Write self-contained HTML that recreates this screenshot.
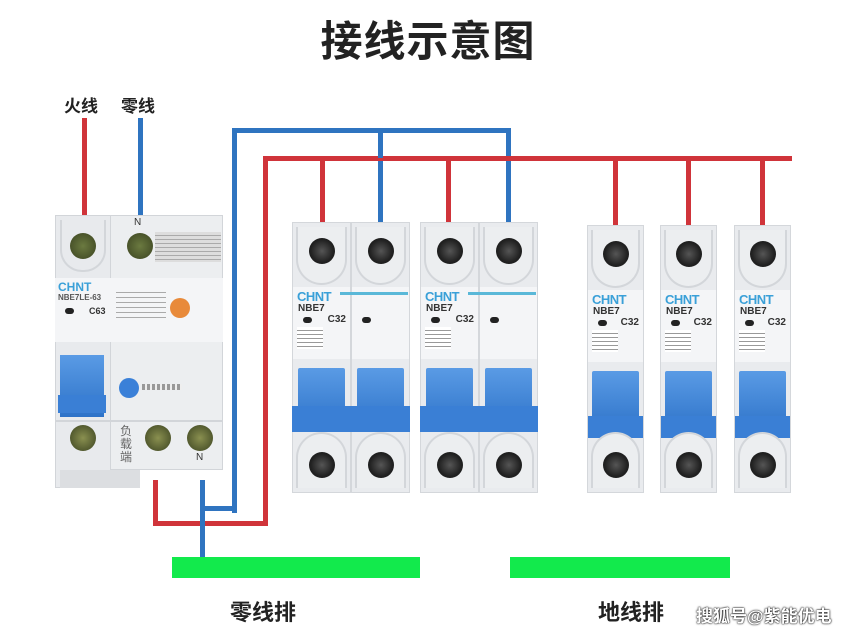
<!DOCTYPE html>
<html><head><meta charset="utf-8">
<style>
*{margin:0;padding:0;box-sizing:border-box}
body{width:856px;height:638px;background:#fff;position:relative;overflow:hidden;font-family:"Liberation Sans","Noto Sans CJK SC",sans-serif}
.a{position:absolute}
.w{position:absolute}
.r{background:#d0343a}
.b{background:#2f74c0}
.pole{position:absolute;top:222px;height:271px;background:#e9ebee;border:1px solid #d4d7db}
.pole .arch{position:absolute;left:6%;right:6%;top:4px;height:58px;border:2px solid #d3d6da;border-top:none;border-radius:0 0 26px 26px;background:#eceef0}
.pole .arch2{position:absolute;left:6%;right:6%;bottom:4px;height:56px;border:2px solid #d3d6da;border-bottom:none;border-radius:26px 26px 0 0;background:#eceef0}
.scr{position:absolute;width:26px;height:26px;border-radius:50%;background:radial-gradient(circle,#555 0,#222 60%,#111 100%);left:50%;margin-left:-13px}
.lab{position:absolute;left:0;right:0;top:64px;height:72px;background:#f4f5f7}
.lab .c{position:absolute;left:4px;top:2px;color:#3aa0d8;font-weight:bold;font-size:13px;letter-spacing:-0.5px}
.lab .n{position:absolute;left:5px;top:16px;color:#333;font-size:10px;font-weight:bold}
.lab .k{position:absolute;right:4px;top:27px;color:#333;font-size:10px;font-weight:bold}
.lab .d{position:absolute;left:10px;top:30px;width:9px;height:6px;border-radius:3px;background:#222}
.lab .t{position:absolute;left:4px;top:40px;width:26px;height:22px;background:repeating-linear-gradient(#fff 0 3px,#999 3px 4px)}
.tg{position:absolute;left:8%;right:8%;top:145px;height:62px;background:linear-gradient(#5a9be5,#2d72c8);border-radius:2px}
.tgb{position:absolute;left:0;right:0;top:190px;height:22px;background:#3a7fd5}
</style></head><body>
<div class="a" style="left:0;width:856px;top:8px;text-align:center;font-size:42px;font-weight:bold;color:#222;letter-spacing:1px">接线示意图</div>
<div class="a" style="left:64px;top:92px;font-size:17px;font-weight:bold;color:#222">火线</div>
<div class="a" style="left:121px;top:92px;font-size:17px;font-weight:bold;color:#222">零线</div>

<!-- wires -->
<div class="w r" style="left:82px;top:118px;width:5px;height:100px"></div>
<div class="w b" style="left:138px;top:118px;width:5px;height:100px"></div>
<div class="w b" style="left:232px;top:128px;width:5px;height:385px"></div>
<div class="w b" style="left:232px;top:128px;width:278px;height:5px"></div>
<div class="w b" style="left:378px;top:128px;width:5px;height:96px"></div>
<div class="w b" style="left:506px;top:128px;width:5px;height:96px"></div>
<div class="w r" style="left:263px;top:156px;width:529px;height:5px"></div>
<div class="w r" style="left:263px;top:156px;width:5px;height:370px"></div>
<div class="w r" style="left:153px;top:480px;width:5px;height:46px"></div>
<div class="w r" style="left:153px;top:521px;width:115px;height:5px"></div>
<div class="w r" style="left:320px;top:156px;width:5px;height:68px"></div>
<div class="w r" style="left:446px;top:156px;width:5px;height:68px"></div>
<div class="w r" style="left:613px;top:156px;width:5px;height:70px"></div>
<div class="w r" style="left:686px;top:156px;width:5px;height:70px"></div>
<div class="w r" style="left:760px;top:156px;width:5px;height:70px"></div>
<div class="w b" style="left:200px;top:480px;width:5px;height:78px"></div>
<div class="w b" style="left:200px;top:506px;width:37px;height:5px"></div>
<div class="w b" style="left:378px;top:128px;width:5px;height:30px"></div>

<!-- RCD -->
<div class="a" style="left:55px;top:215px;width:56px;height:273px;background:#e8eaed;border:1px solid #d2d5d9"></div>
<div class="a" style="left:110px;top:215px;width:113px;height:255px;background:#eceef0;border:1px solid #d2d5d9"></div>
<div class="a" style="left:60px;top:220px;width:46px;height:52px;border:2px solid #d3d6da;border-top:none;border-radius:0 0 22px 22px"></div>
<div class="scr" style="left:83px;top:233px;background:radial-gradient(circle,#6b7a40,#3a4220)"></div>
<div class="scr" style="left:140px;top:233px;background:radial-gradient(circle,#6b7a40,#3a4220)"></div>
<div class="a" style="left:134px;top:217px;font-size:10px;color:#333">N</div>
<div class="a" style="left:155px;top:232px;width:66px;height:30px;background:repeating-linear-gradient(#ddd 0 3px,#aaa 3px 4px)"></div>
<div class="a" style="left:55px;top:278px;width:168px;height:64px;background:#f4f5f7"></div>
<div class="a" style="left:58px;top:280px;font-size:12px;font-weight:bold;color:#3aa0d8">CHNT</div>
<div class="a" style="left:58px;top:293px;font-size:8px;font-weight:bold;color:#555">NBE7LE-63</div>
<div class="a" style="left:89px;top:306px;font-size:9px;font-weight:bold;color:#333">C63</div>
<div class="a" style="left:65px;top:308px;width:9px;height:6px;border-radius:3px;background:#222"></div>
<div class="a" style="left:170px;top:222px;"></div>
<div class="a" style="left:170px;top:298px;width:20px;height:20px;border-radius:50%;background:#e88a3a"></div>
<div class="a" style="left:116px;top:288px;width:50px;height:34px;background:repeating-linear-gradient(#f4f5f7 0 4px,#aaa 4px 5px)"></div>
<div class="a" style="left:60px;top:355px;width:44px;height:62px;background:linear-gradient(#5a9be5,#2d72c8)"></div>
<div class="a" style="left:58px;top:395px;width:48px;height:18px;background:#3a7fd5"></div>
<div class="a" style="left:119px;top:378px;width:20px;height:20px;border-radius:50%;background:#3a80d8"></div>
<div class="a" style="left:142px;top:384px;width:40px;height:6px;background:repeating-linear-gradient(90deg,#999 0 3px,#eee 3px 5px)"></div>
<div class="a" style="left:55px;top:420px;width:168px;height:2px;background:#d2d5d9"></div>
<div class="scr" style="left:83px;top:425px;background:radial-gradient(circle,#8a9050,#3a4220)"></div>
<div class="scr" style="left:158px;top:425px;background:radial-gradient(circle,#8a9050,#3a4220)"></div>
<div class="scr" style="left:200px;top:425px;background:radial-gradient(circle,#8a9050,#3a4220)"></div>
<div class="a" style="left:120px;top:425px;width:14px;font-size:12px;line-height:13px;color:#666">负载端</div>
<div class="a" style="left:196px;top:452px;font-size:10px;color:#333">N</div>
<div class="a" style="left:60px;top:470px;width:80px;height:18px;background:#dcdee1"></div>

<!-- 2P breakers -->
<div class="pole" style="left:292px;width:59px"><div class="arch"></div><div class="scr" style="top:15px"></div><div class="lab"><span class="c">CHNT</span><span class="n">NBE7</span><span class="k">C32</span><span class="d"></span><span class="t"></span></div><div class="tg"></div><div class="arch2"></div><div class="scr" style="top:229px"></div></div>
<div class="pole" style="left:351px;width:59px"><div class="arch"></div><div class="scr" style="top:15px"></div><div class="lab"><span class="d"></span></div><div class="tg"></div><div class="arch2"></div><div class="scr" style="top:229px"></div></div>
<div class="a" style="left:292px;top:406px;width:118px;height:26px;background:#3a7fd5"></div>
<div class="a" style="left:340px;top:292px;width:68px;height:3px;background:#5ab8d8"></div>
<div class="pole" style="left:420px;width:59px"><div class="arch"></div><div class="scr" style="top:15px"></div><div class="lab"><span class="c">CHNT</span><span class="n">NBE7</span><span class="k">C32</span><span class="d"></span><span class="t"></span></div><div class="tg"></div><div class="arch2"></div><div class="scr" style="top:229px"></div></div>
<div class="pole" style="left:479px;width:59px"><div class="arch"></div><div class="scr" style="top:15px"></div><div class="lab"><span class="d"></span></div><div class="tg"></div><div class="arch2"></div><div class="scr" style="top:229px"></div></div>
<div class="a" style="left:420px;top:406px;width:118px;height:26px;background:#3a7fd5"></div>
<div class="a" style="left:468px;top:292px;width:68px;height:3px;background:#5ab8d8"></div>

<!-- 1P breakers -->
<div class="pole" style="left:587px;width:57px;top:225px;height:268px"><div class="arch"></div><div class="scr" style="top:15px"></div><div class="lab"><span class="c">CHNT</span><span class="n">NBE7</span><span class="k">C32</span><span class="d"></span><span class="t"></span></div><div class="tg"></div><div class="tgb"></div><div class="arch2"></div><div class="scr" style="top:226px"></div></div>
<div class="pole" style="left:660px;width:57px;top:225px;height:268px"><div class="arch"></div><div class="scr" style="top:15px"></div><div class="lab"><span class="c">CHNT</span><span class="n">NBE7</span><span class="k">C32</span><span class="d"></span><span class="t"></span></div><div class="tg"></div><div class="tgb"></div><div class="arch2"></div><div class="scr" style="top:226px"></div></div>
<div class="pole" style="left:734px;width:57px;top:225px;height:268px"><div class="arch"></div><div class="scr" style="top:15px"></div><div class="lab"><span class="c">CHNT</span><span class="n">NBE7</span><span class="k">C32</span><span class="d"></span><span class="t"></span></div><div class="tg"></div><div class="tgb"></div><div class="arch2"></div><div class="scr" style="top:226px"></div></div>

<!-- bars -->
<div class="a" style="left:172px;top:557px;width:248px;height:21px;background:#12ea4c"></div>
<div class="a" style="left:510px;top:557px;width:220px;height:21px;background:#12ea4c"></div>
<div class="a" style="left:230px;top:595px;font-size:22px;font-weight:bold;color:#222">零线排</div>
<div class="a" style="left:598px;top:595px;font-size:22px;font-weight:bold;color:#222">地线排</div>
<div class="a" style="left:696px;top:602px;font-size:17px;font-weight:bold;color:#fff;text-shadow:0 0 2px #000,0 0 1px #000">搜狐号@紫能优电</div>
</body></html>
